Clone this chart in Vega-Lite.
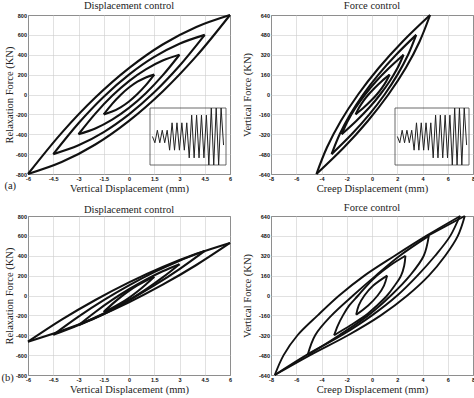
{
 "$schema": "https://vega.github.io/schema/vega-lite/v6.json",
 "padding": 0,
 "background": "white",
 "columns": 2,
 "spacing": {"row": 42, "column": 41},
 "bounds": "flush",
 "datasets": {
  "a": [
   {"l":"6u","x":-6,"y":-800},{"l":"6u","x":-4,"y":-386},{"l":"6u","x":-2,"y":-31},{"l":"6u","x":0,"y":265},{"l":"6u","x":2,"y":503},{"l":"6u","x":4,"y":680},{"l":"6u","x":6,"y":800},
   {"l":"6l","x":-6,"y":-800},{"l":"6l","x":-4,"y":-680},{"l":"6l","x":-2,"y":-503},{"l":"6l","x":0,"y":-265},{"l":"6l","x":2,"y":31},{"l":"6l","x":4,"y":386},{"l":"6l","x":6,"y":800},
   {"l":"4u","x":-4.5,"y":-600},{"l":"4u","x":-3,"y":-289},{"l":"4u","x":-1.5,"y":-22},{"l":"4u","x":0,"y":200},{"l":"4u","x":1.5,"y":378},{"l":"4u","x":3,"y":511},{"l":"4u","x":4.5,"y":600},
   {"l":"4l","x":-4.5,"y":-600},{"l":"4l","x":-3,"y":-511},{"l":"4l","x":-1.5,"y":-378},{"l":"4l","x":0,"y":-200},{"l":"4l","x":1.5,"y":22},{"l":"4l","x":3,"y":289},{"l":"4l","x":4.5,"y":600},
   {"l":"3u","x":-3,"y":-400},{"l":"3u","x":-2,"y":-192},{"l":"3u","x":-1,"y":-13},{"l":"3u","x":0,"y":135},{"l":"3u","x":1,"y":253},{"l":"3u","x":2,"y":342},{"l":"3u","x":3,"y":400},
   {"l":"3l","x":-3,"y":-400},{"l":"3l","x":-2,"y":-342},{"l":"3l","x":-1,"y":-253},{"l":"3l","x":0,"y":-135},{"l":"3l","x":1,"y":13},{"l":"3l","x":2,"y":192},{"l":"3l","x":3,"y":400},
   {"l":"1u","x":-1.5,"y":-200},{"l":"1u","x":-1,"y":-94},{"l":"1u","x":-0.5,"y":-5},{"l":"1u","x":0,"y":70},{"l":"1u","x":0.5,"y":129},{"l":"1u","x":1,"y":172},{"l":"1u","x":1.5,"y":200},
   {"l":"1l","x":-1.5,"y":-200},{"l":"1l","x":-1,"y":-172},{"l":"1l","x":-0.5,"y":-129},{"l":"1l","x":0,"y":-70},{"l":"1l","x":0.5,"y":5},{"l":"1l","x":1,"y":94},{"l":"1l","x":1.5,"y":200}
  ],
  "b": [
   {"l":"6L","x":-4.4,"y":-640},{"l":"6L","x":-3.57,"y":-427},{"l":"6L","x":-2.47,"y":-213},{"l":"6L","x":-1.1,"y":0},{"l":"6L","x":0.53,"y":213},{"l":"6L","x":2.43,"y":427},{"l":"6L","x":4.6,"y":640},
   {"l":"6R","x":-4.4,"y":-640},{"l":"6R","x":-2.23,"y":-427},{"l":"6R","x":-0.33,"y":-213},{"l":"6R","x":1.3,"y":0},{"l":"6R","x":2.67,"y":213},{"l":"6R","x":3.77,"y":427},{"l":"6R","x":4.6,"y":640},
   {"l":"4L","x":-3.2,"y":-480},{"l":"4L","x":-2.56,"y":-320},{"l":"4L","x":-1.72,"y":-160},{"l":"4L","x":-0.7,"y":0},{"l":"4L","x":0.51,"y":160},{"l":"4L","x":1.91,"y":320},{"l":"4L","x":3.5,"y":480},
   {"l":"4R","x":-3.2,"y":-480},{"l":"4R","x":-1.61,"y":-320},{"l":"4R","x":-0.21,"y":-160},{"l":"4R","x":1.0,"y":0},{"l":"4R","x":2.02,"y":160},{"l":"4R","x":2.86,"y":320},{"l":"4R","x":3.5,"y":480},
   {"l":"3L","x":-2.4,"y":-320},{"l":"3L","x":-1.92,"y":-213},{"l":"3L","x":-1.3,"y":-107},{"l":"3L","x":-0.55,"y":0},{"l":"3L","x":0.33,"y":107},{"l":"3L","x":1.35,"y":213},{"l":"3L","x":2.5,"y":320},
   {"l":"3R","x":-2.4,"y":-320},{"l":"3R","x":-1.25,"y":-213},{"l":"3R","x":-0.23,"y":-107},{"l":"3R","x":0.65,"y":0},{"l":"3R","x":1.4,"y":107},{"l":"3R","x":2.02,"y":213},{"l":"3R","x":2.5,"y":320},
   {"l":"1L","x":-1.3,"y":-160},{"l":"1L","x":-1.03,"y":-107},{"l":"1L","x":-0.69,"y":-53},{"l":"1L","x":-0.28,"y":0},{"l":"1L","x":0.21,"y":53},{"l":"1L","x":0.77,"y":107},{"l":"1L","x":1.4,"y":160},
   {"l":"1R","x":-1.3,"y":-160},{"l":"1R","x":-0.67,"y":-107},{"l":"1R","x":-0.11,"y":-53},{"l":"1R","x":0.38,"y":0},{"l":"1R","x":0.79,"y":53},{"l":"1R","x":1.13,"y":107},{"l":"1R","x":1.4,"y":160}
  ],
  "c": [
   {"l":"6u","x":-6,"y":-465},{"l":"6u","x":-4,"y":-243},{"l":"6u","x":-2,"y":-45},{"l":"6u","x":0,"y":132},{"l":"6u","x":2,"y":287},{"l":"6u","x":4,"y":419},{"l":"6u","x":6,"y":529},
   {"l":"6l","x":-6,"y":-465},{"l":"6l","x":-4,"y":-355},{"l":"6l","x":-2,"y":-223},{"l":"6l","x":0,"y":-68},{"l":"6l","x":2,"y":109},{"l":"6l","x":4,"y":307},{"l":"6l","x":6,"y":529},
   {"l":"4u","x":-4.5,"y":-395},{"l":"4u","x":-3,"y":-212},{"l":"4u","x":-1.5,"y":-47},{"l":"4u","x":0,"y":102},{"l":"4u","x":1.5,"y":235},{"l":"4u","x":3,"y":350},{"l":"4u","x":4.5,"y":449},
   {"l":"4l","x":-4.5,"y":-395},{"l":"4l","x":-3,"y":-296},{"l":"4l","x":-1.5,"y":-181},{"l":"4l","x":0,"y":-48},{"l":"4l","x":1.5,"y":101},{"l":"4l","x":3,"y":266},{"l":"4l","x":4.5,"y":449},
   {"l":"3u","x":-3,"y":-299},{"l":"3u","x":-2,"y":-166},{"l":"3u","x":-1,"y":-45},{"l":"3u","x":0,"y":63},{"l":"3u","x":1,"y":159},{"l":"3u","x":2,"y":244},{"l":"3u","x":3,"y":315},
   {"l":"3l","x":-3,"y":-299},{"l":"3l","x":-2,"y":-228},{"l":"3l","x":-1,"y":-143},{"l":"3l","x":0,"y":-47},{"l":"3l","x":1,"y":61},{"l":"3l","x":2,"y":182},{"l":"3l","x":3,"y":315},
   {"l":"1u","x":-1.5,"y":-165},{"l":"1u","x":-1,"y":-87},{"l":"1u","x":-0.5,"y":-16},{"l":"1u","x":0,"y":47},{"l":"1u","x":0.5,"y":102},{"l":"1u","x":1,"y":149},{"l":"1u","x":1.5,"y":189},
   {"l":"1l","x":-1.5,"y":-165},{"l":"1l","x":-1,"y":-125},{"l":"1l","x":-0.5,"y":-78},{"l":"1l","x":0,"y":-23},{"l":"1l","x":0.5,"y":40},{"l":"1l","x":1,"y":111},{"l":"1l","x":1.5,"y":189}
  ],
  "d": [
   {"l":"Ou","x":-7.7,"y":-640},{"l":"Ou","x":-7.0,"y":-480},{"l":"Ou","x":-5.9,"y":-320},{"l":"Ou","x":-4.3,"y":-160},{"l":"Ou","x":-2.6,"y":0},{"l":"Ou","x":-0.6,"y":160},{"l":"Ou","x":1.8,"y":320},{"l":"Ou","x":4.3,"y":480},{"l":"Ou","x":7.0,"y":640},
   {"l":"Ou2","x":4.4,"y":480},{"l":"Ou2","x":7.35,"y":640},
   {"l":"Ol1","x":-7.7,"y":-640},{"l":"Ol1","x":-5.2,"y":-480},{"l":"Ol1","x":-2.4,"y":-320},{"l":"Ol1","x":0.0,"y":-160},{"l":"Ol1","x":2.0,"y":0},{"l":"Ol1","x":3.6,"y":160},{"l":"Ol1","x":5.0,"y":320},{"l":"Ol1","x":6.2,"y":480},{"l":"Ol1","x":6.95,"y":640},
   {"l":"Ol2","x":-7.7,"y":-640},{"l":"Ol2","x":-4.9,"y":-480},{"l":"Ol2","x":-1.9,"y":-320},{"l":"Ol2","x":0.7,"y":-160},{"l":"Ol2","x":2.8,"y":0},{"l":"Ol2","x":4.5,"y":160},{"l":"Ol2","x":5.8,"y":320},{"l":"Ol2","x":6.8,"y":480},{"l":"Ol2","x":7.35,"y":640},
   {"l":"4u","x":-5.1,"y":-480},{"l":"4u","x":-4.5,"y":-320},{"l":"4u","x":-3.2,"y":-160},{"l":"4u","x":-1.5,"y":0},{"l":"4u","x":0.3,"y":160},{"l":"4u","x":2.2,"y":320},{"l":"4u","x":4.5,"y":480},
   {"l":"4l","x":-5.1,"y":-480},{"l":"4l","x":-2.6,"y":-320},{"l":"4l","x":-0.3,"y":-160},{"l":"4l","x":1.5,"y":0},{"l":"4l","x":3.0,"y":160},{"l":"4l","x":4.1,"y":320},{"l":"4l","x":4.5,"y":480},
   {"l":"3u","x":-3.0,"y":-320},{"l":"3u","x":-2.7,"y":-240},{"l":"3u","x":-2.3,"y":-160},{"l":"3u","x":-1.8,"y":-80},{"l":"3u","x":-1.1,"y":0},{"l":"3u","x":-0.4,"y":80},{"l":"3u","x":0.4,"y":160},{"l":"3u","x":1.4,"y":240},{"l":"3u","x":2.65,"y":320},
   {"l":"3l","x":-3.0,"y":-320},{"l":"3l","x":-1.7,"y":-240},{"l":"3l","x":-0.5,"y":-160},{"l":"3l","x":0.4,"y":-80},{"l":"3l","x":1.2,"y":0},{"l":"3l","x":1.8,"y":80},{"l":"3l","x":2.3,"y":160},{"l":"3l","x":2.55,"y":240},{"l":"3l","x":2.65,"y":320},
   {"l":"1u","x":-1.25,"y":-155},{"l":"1u","x":-1.05,"y":-80},{"l":"1u","x":-0.6,"y":0},{"l":"1u","x":0.1,"y":80},{"l":"1u","x":1.2,"y":160},
   {"l":"1l","x":-1.25,"y":-155},{"l":"1l","x":-0.3,"y":-80},{"l":"1l","x":0.45,"y":0},{"l":"1l","x":0.95,"y":80},{"l":"1l","x":1.2,"y":160}
  ],
  "sig": [
   {"t":0,"v":0},{"t":1,"v":-0.22},{"t":2,"v":0.22},{"t":3,"v":-0.22},{"t":4,"v":0.22},{"t":5,"v":-0.22},{"t":6,"v":0.22},
   {"t":7,"v":-0.48},{"t":8,"v":0.48},{"t":9,"v":-0.48},{"t":10,"v":0.48},{"t":11,"v":-0.48},{"t":12,"v":0.48},{"t":13,"v":-0.48},{"t":14,"v":0.48},
   {"t":15,"v":-0.75},{"t":16,"v":0.75},{"t":17,"v":-0.75},{"t":18,"v":0.75},{"t":19,"v":-0.75},{"t":20,"v":0.75},{"t":21,"v":-0.75},{"t":22,"v":0.75},
   {"t":23,"v":-1},{"t":24,"v":1},{"t":25,"v":-1},{"t":26,"v":1},{"t":27,"v":-1},{"t":28,"v":1},{"t":29,"v":-0.3}
  ],
  "box": [{"t0":-1,"t1":30,"v0":-1,"v1":1}]
 },
 "concat": [
  {
   "width": 202, "height": 159,
   "title": "Displacement control",
   "resolve": {"scale": {"x": "independent", "y": "independent"}},
   "layer": [
    {"layer": [
     {"data": {"name": "a"}, "mark": {"type": "line", "color": "#111", "strokeWidth": 2.1, "interpolate": "catmull-rom"},
      "encoding": {
       "x": {"field": "x", "type": "quantitative", "scale": {"domain": [-6, 6], "nice": false, "zero": false},
             "axis": {"values": [-6, -4.5, -3, -1.5, 0, 1.5, 3, 4.5, 6], "labelExpr": "'' + datum.value", "labelOverlap": false, "title": "Vertical Displacement (mm)"}},
       "y": {"field": "y", "type": "quantitative", "scale": {"domain": [-800, 800], "nice": false, "zero": false},
             "axis": {"values": [-800, -600, -400, -200, 0, 200, 400, 600, 800], "labelExpr": "'' + datum.value", "labelOverlap": false, "title": "Relaxation Force (KN)", "titlePadding": 1}},
       "detail": {"field": "l"}}},
     {"data": {"values": [{"lab": "(a)"}]}, "mark": {"type": "text", "align": "left", "baseline": "middle", "font": "Liberation Serif", "fontSize": 10.5, "color": "#222"},
      "encoding": {
       "x": {"datum": -7.4, "type": "quantitative", "axis": {"values": [-6, -4.5, -3, -1.5, 0, 1.5, 3, 4.5, 6], "labelExpr": "'' + datum.value", "labelOverlap": false, "title": "Vertical Displacement (mm)"}},
       "y": {"datum": -920, "type": "quantitative", "axis": {"values": [-800, -600, -400, -200, 0, 200, 400, 600, 800], "labelExpr": "'' + datum.value", "labelOverlap": false, "title": "Relaxation Force (KN)", "titlePadding": 1}},
       "text": {"field": "lab"}}}
    ]},
    {"layer": [
     {"data": {"name": "box"}, "mark": {"type": "rect", "filled": false, "stroke": "#444", "strokeWidth": 0.8},
      "encoding": {
       "x": {"field": "t0", "type": "quantitative", "scale": {"domain": [-1, 30], "range": [122, 198], "nice": false, "zero": false}, "axis": null},
       "x2": {"field": "t1"},
       "y": {"field": "v0", "type": "quantitative", "scale": {"domain": [-1, 1], "range": [150, 93], "nice": false, "zero": false}, "axis": null},
       "y2": {"field": "v1"}}},
     {"data": {"name": "sig"}, "mark": {"type": "line", "color": "#222", "strokeWidth": 1},
      "encoding": {"x": {"field": "t", "type": "quantitative", "axis": null}, "y": {"field": "v", "type": "quantitative", "axis": null}}}
    ]}
   ]
  },
  {
   "width": 202, "height": 159,
   "title": "Force control",
   "resolve": {"scale": {"x": "independent", "y": "independent"}},
   "layer": [
    {"data": {"name": "b"}, "mark": {"type": "line", "color": "#111", "strokeWidth": 2.1, "interpolate": "catmull-rom"},
     "encoding": {
      "x": {"field": "x", "type": "quantitative", "scale": {"domain": [-8, 8], "nice": false, "zero": false},
            "axis": {"values": [-8, -6, -4, -2, 0, 2, 4, 6, 8], "labelExpr": "'' + datum.value", "labelOverlap": false, "title": "Creep Displacement (mm)"}},
      "y": {"field": "y", "type": "quantitative", "scale": {"domain": [-640, 640], "nice": false, "zero": false},
            "axis": {"values": [-640, -480, -320, -160, 0, 160, 320, 480, 640], "labelExpr": "'' + datum.value", "labelOverlap": false, "title": "Vertical Force (KN)", "titlePadding": 6}},
      "detail": {"field": "l"}}},
    {"layer": [
     {"data": {"name": "box"}, "mark": {"type": "rect", "filled": false, "stroke": "#444", "strokeWidth": 0.8},
      "encoding": {
       "x": {"field": "t0", "type": "quantitative", "scale": {"domain": [-1, 30], "range": [124, 198], "nice": false, "zero": false}, "axis": null},
       "x2": {"field": "t1"},
       "y": {"field": "v0", "type": "quantitative", "scale": {"domain": [-1, 1], "range": [150, 93], "nice": false, "zero": false}, "axis": null},
       "y2": {"field": "v1"}}},
     {"data": {"name": "sig"}, "mark": {"type": "line", "color": "#222", "strokeWidth": 1},
      "encoding": {"x": {"field": "t", "type": "quantitative", "axis": null}, "y": {"field": "v", "type": "quantitative", "axis": null}}}
    ]}
   ]
  },
  {
   "width": 202, "height": 159,
   "title": "Displacement control",
   "layer": [
    {"data": {"name": "c"}, "mark": {"type": "line", "color": "#111", "strokeWidth": 2.1, "interpolate": "catmull-rom"},
     "encoding": {
      "x": {"field": "x", "type": "quantitative", "scale": {"domain": [-6, 6], "nice": false, "zero": false},
            "axis": {"values": [-6, -4.5, -3, -1.5, 0, 1.5, 3, 4.5, 6], "labelExpr": "'' + datum.value", "labelOverlap": false, "title": "Vertical Displacement (mm)"}},
      "y": {"field": "y", "type": "quantitative", "scale": {"domain": [-800, 800], "nice": false, "zero": false},
            "axis": {"values": [-800, -600, -400, -200, 0, 200, 400, 600, 800], "labelExpr": "'' + datum.value", "labelOverlap": false, "title": "Relaxation Force (KN)", "titlePadding": 1}},
      "detail": {"field": "l"}}},
    {"data": {"values": [{"lab": "(b)"}]}, "mark": {"type": "text", "align": "left", "baseline": "middle", "font": "Liberation Serif", "fontSize": 10.5, "color": "#222"},
     "encoding": {
      "x": {"datum": -7.58, "type": "quantitative", "axis": {"values": [-6, -4.5, -3, -1.5, 0, 1.5, 3, 4.5, 6], "labelExpr": "'' + datum.value", "labelOverlap": false, "title": "Vertical Displacement (mm)"}},
      "y": {"datum": -830, "type": "quantitative", "axis": {"values": [-800, -600, -400, -200, 0, 200, 400, 600, 800], "labelExpr": "'' + datum.value", "labelOverlap": false, "title": "Relaxation Force (KN)", "titlePadding": 1}},
      "text": {"field": "lab"}}}
   ]
  },
  {
   "width": 202, "height": 159,
   "title": "Force control",
   "layer": [
    {"data": {"name": "d"}, "mark": {"type": "line", "color": "#111", "strokeWidth": 1.9, "interpolate": "catmull-rom"},
     "encoding": {
      "x": {"field": "x", "type": "quantitative", "scale": {"domain": [-8, 8], "nice": false, "zero": false},
            "axis": {"values": [-8, -6, -4, -2, 0, 2, 4, 6, 8], "labelExpr": "'' + datum.value", "labelOverlap": false, "title": "Creep Displacement (mm)"}},
      "y": {"field": "y", "type": "quantitative", "scale": {"domain": [-640, 640], "nice": false, "zero": false},
            "axis": {"values": [-640, -480, -320, -160, 0, 160, 320, 480, 640], "labelExpr": "'' + datum.value", "labelOverlap": false, "title": "Vertical Force (KN)", "titlePadding": 6}},
      "detail": {"field": "l"}}}
   ]
  }
 ],
 "config": {
  "view": {"stroke": "#333", "strokeWidth": 1},
  "axis": {"grid": true, "gridColor": "#cccccc", "gridWidth": 0.6, "domain": false, "ticks": false,
           "labelFont": "Liberation Sans", "labelFontSize": 5.5, "labelFontWeight": "bold", "labelColor": "#111",
           "labelFlush": false, "labelOverlap": false,
           "titleFont": "Liberation Serif", "titleFontSize": 10.5, "titleFontWeight": "normal", "titleColor": "#222"},
  "axisX": {"labelPadding": 2, "titlePadding": 2},
  "axisY": {"labelPadding": 1.5},
  "title": {"font": "Liberation Serif", "fontSize": 10.5, "fontWeight": "normal", "color": "#222", "offset": -1}
 }
}
